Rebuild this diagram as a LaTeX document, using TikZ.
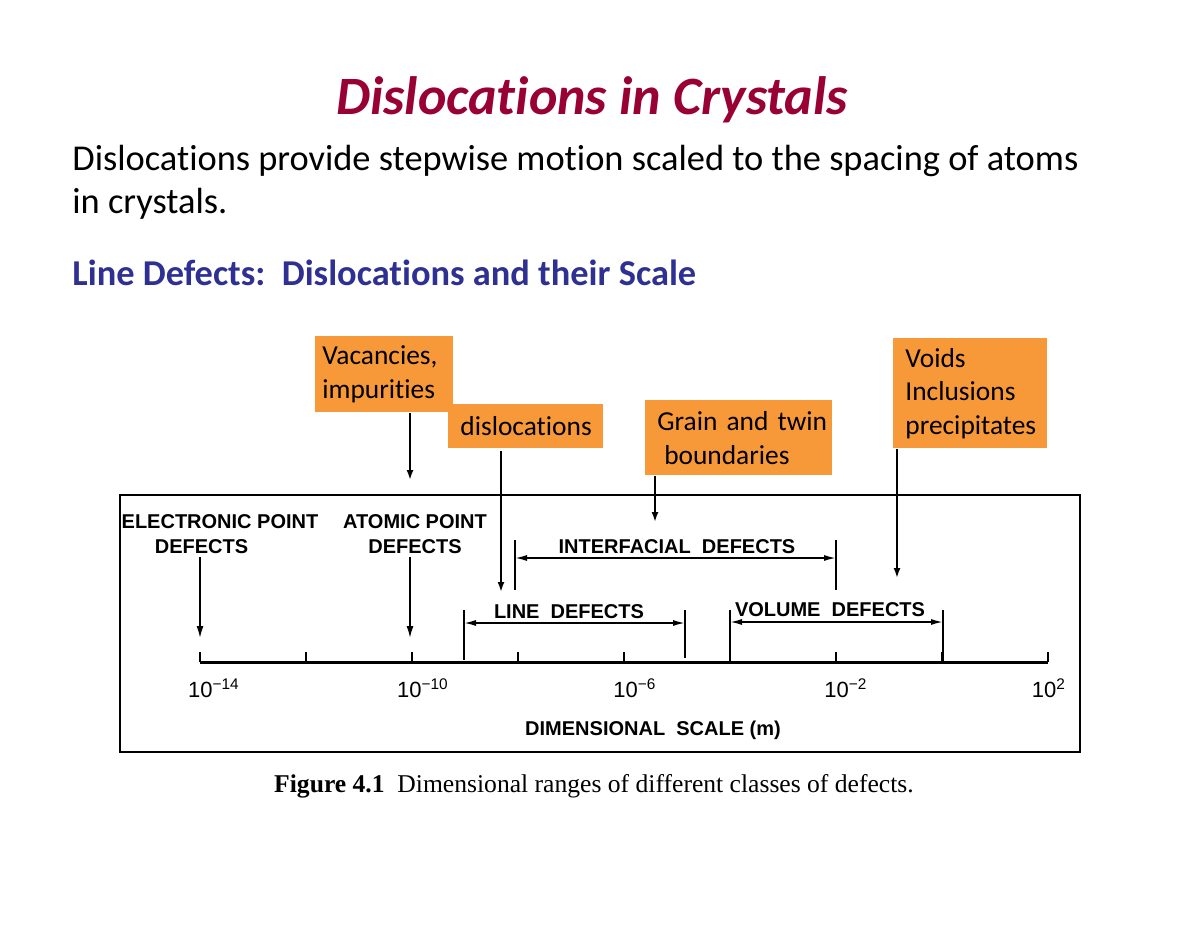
\documentclass[tikz,border=0pt]{standalone}
\usepackage{fontspec}
\setmainfont{Carlito}[RawFeature={-liga,-clig,-dlig}]
\newfontfamily\figfont{Liberation Sans}
\newfontfamily\capfont{Liberation Serif}
\usetikzlibrary{arrows.meta}
\definecolor{titlered}{RGB}{153,0,51}
\definecolor{subblue}{RGB}{46,49,146}
\definecolor{callout}{RGB}{247,153,56}
\begin{document}
\begin{tikzpicture}[x=0.5pt,y=-0.5pt,
  callbox/.style={fill=callout, anchor=north west, inner ysep=0pt, align=left,
    font=\fontsize{13.7}{16.7}\selectfont},
  figlabel/.style={font=\figfont\bfseries\fontsize{10}{12.5}\selectfont, inner sep=0pt, align=center},
  axlabel/.style={font=\figfont\fontsize{11}{13}\selectfont, inner sep=0pt},
  barline/.style={line width=0.7pt},
  rangearrow/.style={line width=0.8pt, {Latex[length=6pt,width=3pt]}-{Latex[length=6pt,width=3pt]}},
  downarrow/.style={line width=0.8pt, -{Latex[length=6pt,width=3.5pt]}},
  callarrow/.style={line width=0.9pt, -{Latex[length=5pt,width=3.5pt]}},
]
\useasboundingbox[fill=white] (0,0) rectangle (1200,927);

% headings
\node[font=\bfseries\itshape\fontsize{27}{32}\selectfont, text=titlered] (title) at (592,100) {Dislocations in Crystals};
\node[anchor=west, align=left, inner sep=0pt, font=\fontsize{18.2}{21.5}\selectfont] (body) at (72,182)
  {Dislocations provide stepwise motion scaled to the spacing of atoms\\in crystals.};
\node[anchor=west, inner sep=0pt, text=subblue, font=\bfseries\fontsize{18.2}{21}\selectfont] (sub) at (72,273)
  {Line Defects:\ \ Dislocations and their Scale};

% frame
\draw[line width=1pt] (120,495) rectangle (1080,752);

% axis
\coordinate (ax0) at (200,662);
\coordinate (ax1) at (1048,662);
\draw[line width=1.5pt] (ax0) -- (ax1);
\foreach \t in {200,306,412,518,624,730,836,942,1048}
  \draw[line width=0.7pt] (\t,662) -- (\t,652);

\node[axlabel] (l14) at (214,688) {10\textsuperscript{−14}};
\node[axlabel] (l10) at (423,688) {10\textsuperscript{−10}};
\node[axlabel] (l6)  at (635,688) {10\textsuperscript{−6}};
\node[axlabel] (l2m) at (846,688) {10\textsuperscript{−2}};
\node[axlabel] (l2)  at (1049,688) {10\textsuperscript{2}};
\node[figlabel] (dimscale) at (653,730) {DIMENSIONAL\ \ SCALE (m)};

% point defects
\node[figlabel] (epd) at (220,534) {ELECTRONIC POINT\\DEFECTS\hspace*{3.5ex}};
\node[figlabel] (apd) at (415,534) {ATOMIC POINT\\DEFECTS};
\coordinate (eA) at (200,557);
\coordinate (eB) at (200,638);
\coordinate (aA) at (410,557);
\coordinate (aB) at (410,638);
\draw[downarrow] (eA) -- (eB);
\draw[downarrow] (aA) -- (aB);

% interfacial defects
\coordinate (iL1) at (515,540); \coordinate (iL2) at (515,590);
\coordinate (iR1) at (836,540); \coordinate (iR2) at (836,590);
\coordinate (iA) at (515,558); \coordinate (iB) at (836,558);
\draw[barline] (iL1) -- (iL2);
\draw[barline] (iR1) -- (iR2);
\draw[rangearrow] (iA) -- (iB);
\node[figlabel] (ifd) at (677,547) {INTERFACIAL\ \ DEFECTS};

% line defects
\coordinate (lL1) at (464,610); \coordinate (lL2) at (464,660);
\coordinate (lR1) at (685,610); \coordinate (lR2) at (685,658);
\coordinate (lA) at (464,623); \coordinate (lB) at (685,623);
\draw[barline] (lL1) -- (lL2);
\draw[barline] (lR1) -- (lR2);
\draw[rangearrow] (lA) -- (lB);
\node[figlabel] (lnd) at (569,612) {LINE\ \ DEFECTS};

% volume defects
\coordinate (vL1) at (730,610); \coordinate (vL2) at (730,662);
\coordinate (vR1) at (943,610); \coordinate (vR2) at (943,662);
\coordinate (vA) at (730,622); \coordinate (vB) at (943,622);
\draw[barline] (vL1) -- (vL2);
\draw[barline] (vR1) -- (vR2);
\draw[rangearrow] (vA) -- (vB);
\node[figlabel] (vld) at (830,610) {VOLUME\ \ DEFECTS};

% caption
\node[font=\capfont\fontsize{12.8}{15}\selectfont, inner sep=0pt] (cap) at (594,786)
  {\textbf{Figure 4.1}\ \ Dimensional ranges of different classes of defects.};

% callouts
\node[callbox, inner xsep=3.5pt, minimum width=69pt, minimum height=38pt, text width=62pt] (vac) at (315,336) {\mbox{Vacancies,}\\\mbox{impurities}};
\node[callbox, inner xsep=6pt, minimum width=77.5pt, minimum height=22pt, text width=65.5pt] (disl) at (448,404) {\mbox{dislocations}};
\node[callbox, inner xsep=6pt, minimum width=93.5pt, minimum height=37.5pt, text width=81.5pt] (grain) at (645,400) {\mbox{Grain and twin}\\\mbox{\hspace*{0.25em}boundaries}};
\node[callbox, inner xsep=6pt, minimum width=77pt, minimum height=55pt, text width=65pt] (voids) at (893,338) {\mbox{Voids}\\\mbox{Inclusions}\\\mbox{precipitates}};

\coordinate (vacT) at (410,480);
\coordinate (dislT) at (501,592);
\coordinate (grainT) at (655,522);
\coordinate (voidsT) at (897,578);
\draw[callarrow] (vac.south -| vacT) -- (vacT);
\draw[callarrow] ([yshift=-1pt]disl.south -| dislT) -- (dislT);
\draw[callarrow] (grain.south -| grainT) -- (grainT);
\draw[callarrow] (voids.south -| voidsT) -- (voidsT);
\end{tikzpicture}
\end{document}
